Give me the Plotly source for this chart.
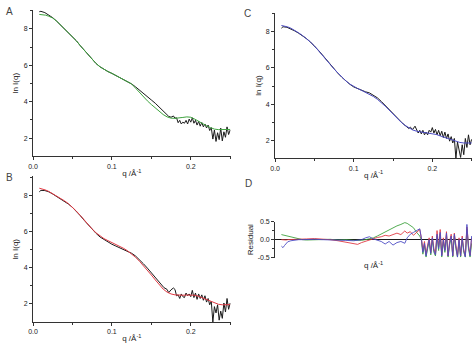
import plotly.graph_objects as go

# ---------------- Panel A ----------------
qA = [0.008,0.010,0.015,0.020,0.025,0.030,0.035,0.040,0.045,0.050,0.055,0.060,0.065,0.070,0.075,0.080,0.085,0.090,0.095,0.100,
      0.105,0.110,0.115,0.120,0.125,0.130,0.135,0.140,0.145,0.150,0.155,0.160,0.163,0.166,0.170,0.172,0.175,0.178,0.180,0.182,
      0.184,0.186,0.188,0.190,0.192,0.194,0.196,0.198,0.200,0.202,0.204,0.206,0.208,0.210,0.212,0.214,0.216,0.218,0.220,0.222,
      0.224,0.226,0.228,0.230,0.232,0.234,0.236,0.238,0.240,0.242,0.244,0.246,0.248,0.250]
dataA = [8.95,8.97,8.90,8.78,8.62,8.43,8.22,8.02,7.82,7.60,7.35,7.08,6.82,6.56,6.32,6.10,5.92,5.78,5.66,5.56,
         5.45,5.34,5.24,5.12,4.98,4.82,4.65,4.45,4.28,4.10,3.92,3.70,3.55,3.45,3.30,3.20,3.15,3.22,3.10,3.12,
         2.85,2.98,2.78,2.88,2.82,2.98,2.78,3.05,2.88,3.12,2.82,2.98,2.72,2.92,2.66,2.86,2.62,2.78,2.56,2.72,
         2.42,2.58,1.95,2.45,1.82,2.30,1.92,2.55,1.85,2.35,2.05,2.62,2.20,2.45]
qfitA = [0.008,0.012,0.016,0.020,0.025,0.030,0.035,0.040,0.045,0.050,0.055,0.060,0.065,0.070,0.075,0.080,0.085,0.090,0.095,0.100,
         0.105,0.110,0.115,0.120,0.125,0.130,0.135,0.140,0.145,0.150,0.155,0.160,0.165,0.170,0.175,0.180,0.185,0.190,0.195,0.200,
         0.205,0.210,0.215,0.220,0.225,0.230,0.235,0.240,0.245,0.250]
fitA = [8.80,8.80,8.76,8.70,8.60,8.43,8.22,8.02,7.82,7.60,7.35,7.08,6.82,6.56,6.32,6.10,5.92,5.78,5.66,5.56,
        5.45,5.34,5.24,5.12,4.98,4.75,4.50,4.25,4.05,3.85,3.65,3.45,3.30,3.17,3.10,3.09,3.10,3.14,3.17,3.15,
        3.05,2.92,2.80,2.68,2.58,2.50,2.47,2.46,2.47,2.48]

# ---------------- Panel B ----------------
qB = qA
dataB = [8.20,8.28,8.27,8.20,8.08,7.95,7.82,7.68,7.52,7.34,7.12,6.88,6.62,6.37,6.12,5.90,5.70,5.55,5.42,5.30,
         5.20,5.10,5.02,4.92,4.80,4.65,4.45,4.22,3.98,3.72,3.45,3.20,3.00,2.90,2.80,2.62,2.78,2.88,2.80,2.45,
         2.50,2.30,2.55,2.40,2.35,2.60,2.45,2.55,2.40,2.75,2.35,2.60,2.25,2.55,2.30,2.50,2.20,2.45,2.10,2.30,
         1.95,2.15,1.00,1.85,1.50,1.95,1.10,1.60,1.20,2.05,1.55,2.30,1.70,2.05]
qfitB = qfitA
fitB = [8.40,8.36,8.30,8.22,8.10,7.97,7.84,7.70,7.54,7.35,7.13,6.89,6.63,6.38,6.14,5.93,5.75,5.61,5.50,5.40,
        5.30,5.19,5.07,4.93,4.77,4.58,4.36,4.12,3.87,3.60,3.33,3.06,2.82,2.65,2.55,2.50,2.48,2.48,2.49,2.50,
        2.48,2.42,2.33,2.22,2.12,2.04,1.98,1.95,1.95,1.96]

# ---------------- Panel C ----------------
qC = qA
dataC = [8.20,8.28,8.25,8.17,8.05,7.92,7.78,7.62,7.43,7.22,6.98,6.73,6.46,6.20,5.94,5.70,5.48,5.28,5.10,4.95,
         4.85,4.76,4.68,4.62,4.50,4.35,4.15,3.92,3.70,3.48,3.25,3.05,2.90,2.80,2.65,2.72,2.60,2.78,2.55,2.40,
         2.55,2.35,2.55,2.30,2.45,2.30,2.55,2.45,2.70,2.40,2.60,2.30,2.55,2.25,2.50,2.15,2.45,2.10,2.35,1.95,
         2.20,1.85,2.10,1.00,1.90,1.40,1.05,1.75,1.20,2.10,1.60,2.30,1.75,2.05]
qfitC = qfitA
fitC = [8.35,8.32,8.27,8.20,8.08,7.94,7.79,7.62,7.43,7.22,6.98,6.73,6.46,6.20,5.94,5.70,5.48,5.28,5.11,4.97,
        4.86,4.76,4.66,4.55,4.42,4.27,4.09,3.89,3.67,3.44,3.22,3.01,2.83,2.68,2.57,2.50,2.46,2.44,2.42,2.38,
        2.32,2.24,2.16,2.08,2.00,1.93,1.88,1.85,1.84,1.85]

# ---------------- Panel D (residuals) ----------------
qR = [0.008,0.010,0.012,0.014,0.016,0.020,0.025,0.030,0.035,0.040,0.050,0.060,0.070,0.080,0.090,0.100,0.105,0.110,0.115,0.120,
      0.125,0.130,0.135,0.140,0.145,0.150,0.155,0.160,0.165,0.168,0.172,0.176,0.180,0.184,0.186,
      0.188,0.190,0.192,0.194,0.196,0.198,0.200,0.202,0.204,0.206,0.208,0.210,0.212,0.214,0.216,0.218,
      0.220,0.222,0.224,0.226,0.228,0.230,0.232,0.234,0.236,0.238,0.240,0.242,0.244,0.246,0.248,0.250]
resA = [0.14,0.13,0.12,0.11,0.10,0.07,0.04,0.01,0.00,-0.01,0.00,0.02,0.01,-0.01,0.00,-0.02,-0.03,-0.02,0.00,0.02,
        0.05,0.10,0.16,0.22,0.28,0.33,0.38,0.42,0.47,0.45,0.38,0.33,0.20,0.10,0.00,
        -0.40,-0.15,-0.48,-0.25,-0.05,-0.42,0.00,-0.35,-0.45,0.10,-0.30,0.15,-0.48,-0.05,-0.35,0.12,
        -0.48,-0.15,0.05,-0.48,0.10,-0.25,-0.48,-0.05,-0.48,0.00,-0.35,-0.48,0.30,-0.25,-0.48,-0.10]
resB = [0.00,-0.01,-0.02,-0.01,0.00,0.00,0.01,0.01,0.02,0.02,0.03,0.02,0.00,-0.03,-0.07,-0.12,-0.13,-0.08,-0.04,0.00,
        0.03,0.06,0.08,0.12,0.10,0.15,0.18,0.14,0.24,0.18,0.22,0.12,0.20,0.28,0.05,
        -0.30,-0.05,-0.40,-0.15,0.05,-0.35,0.10,-0.25,-0.40,0.25,-0.20,0.28,-0.42,0.05,-0.28,0.22,
        -0.45,-0.05,0.15,-0.45,0.18,-0.15,-0.45,0.05,-0.45,0.10,-0.28,-0.45,0.35,-0.15,-0.42,0.05]
resC = [-0.18,-0.22,-0.16,-0.10,-0.06,-0.03,-0.01,0.00,0.00,0.01,0.01,0.00,0.00,-0.01,-0.02,-0.03,-0.02,0.00,0.05,0.08,
        0.02,-0.02,-0.05,-0.12,-0.05,-0.15,-0.08,-0.05,-0.10,0.05,0.15,0.20,0.25,0.30,0.05,
        -0.35,-0.10,-0.45,-0.20,0.00,-0.38,0.05,-0.30,-0.42,0.15,-0.25,0.20,-0.45,0.00,-0.30,0.18,
        -0.45,-0.10,0.10,-0.45,0.15,-0.20,-0.48,0.00,-0.45,0.05,-0.30,-0.48,0.42,-0.20,-0.45,0.10]

GREEN = "#3fa33f"
RED = "#e03a44"
BLUE = "#4d4dc4"
BLACK = "#1a1a1a"

W, H = 474, 348
def px(x):
    return x / W
def py(y):
    return 1 - y / H

fig = go.Figure()

def line(x, y, color, xa, ya, width=1.0):
    fig.add_trace(go.Scatter(x=x, y=y, mode="lines", line=dict(color=color, width=width),
                             xaxis=xa, yaxis=ya, showlegend=False, hoverinfo="skip"))

line(qA, dataA, BLACK, "x", "y")
line(qfitA, fitA, GREEN, "x", "y")
line(qB, dataB, BLACK, "x2", "y2")
line(qfitB, fitB, RED, "x2", "y2")
line(qC, dataC, BLACK, "x3", "y3")
line(qfitC, fitC, BLUE, "x3", "y3")
line(qR, resA, GREEN, "x4", "y4", 0.9)
line(qR, resB, RED, "x4", "y4", 0.9)
line(qR, resC, BLUE, "x4", "y4", 0.9)

tickfont = dict(family="Arial", size=7, color="#222")
titlefont = dict(family="Arial", size=8, color="#222")
axcol = "#333"
qtitle = "q /Å<sup>-1</sup>"

def xax(domain, anchor, show=True, standoff=1):
    d = dict(domain=domain, anchor=anchor, range=[0, 0.2505], showgrid=False, zeroline=False,
             showline=show, linecolor=axcol, linewidth=1,
             ticks="outside" if show else "", ticklen=3, tickcolor=axcol, tickwidth=1,
             tickvals=[0, 0.1, 0.2], ticktext=["0.0", "0.1", "0.2"],
             showticklabels=show, tickfont=tickfont,
             title=dict(text=qtitle, font=titlefont, standoff=standoff))
    if show:
        d["minor"] = dict(ticks="outside", ticklen=2, tickcolor=axcol, tickvals=[0.05, 0.15, 0.25])
    return d

def yax(domain, anchor):
    return dict(domain=domain, anchor=anchor, range=[1, 9.05], showgrid=False, zeroline=False,
                showline=True, linecolor=axcol, linewidth=1,
                ticks="outside", ticklen=3, tickcolor=axcol, tickwidth=1,
                tickvals=[2, 4, 6, 8], tickfont=tickfont,
                title=dict(text="ln I(q)", font=titlefont, standoff=3),
                minor=dict(ticks="outside", ticklen=2, tickcolor=axcol, tickvals=[3, 5, 7, 9]))

fig.update_layout(
    width=W, height=H, margin=dict(l=0, r=0, t=0, b=0),
    paper_bgcolor="white", plot_bgcolor="white",
    xaxis=xax([px(28.3), px(228)], "y"),
    yaxis=yax([py(155.5), py(6)], "x"),
    xaxis2=xax([px(28.3), px(228)], "y2"),
    yaxis2=yax([py(324.5), py(176)], "x2"),
    xaxis3=xax([px(273), px(472)], "y3"),
    yaxis3=yax([py(157.5), py(9)], "x3"),
    xaxis4=xax([px(273), px(472)], "y4", show=False, standoff=4),
    yaxis4=dict(domain=[py(259), py(222)], anchor="x4", range=[-0.5, 0.5], showgrid=False,
                zeroline=True, zerolinecolor=BLACK, zerolinewidth=1.2,
                showline=True, linecolor=axcol, linewidth=1,
                ticks="outside", ticklen=3, tickcolor=axcol,
                tickvals=[-0.5, 0, 0.5], ticktext=["-0.5", "0.0", "0.5"], tickfont=tickfont,
                title=dict(text="Residual", font=titlefont, standoff=2),
                minor=dict(ticks="outside", ticklen=2, tickcolor=axcol, tickvals=[-0.25, 0.25])),
)

letterfont = dict(family="Arial", size=10, color="#444")
ann = []
def a(text, x, y):
    ann.append(dict(text=text, x=px(x), y=py(y), xref="paper", yref="paper", showarrow=False,
                    xanchor="center", yanchor="middle", font=letterfont))

a("A", 5, 8)
a("B", 5, 177)
a("C", 245, 10)
a("D", 246, 183)
fig.update_layout(annotations=ann)

fig.write_html("out.html")
